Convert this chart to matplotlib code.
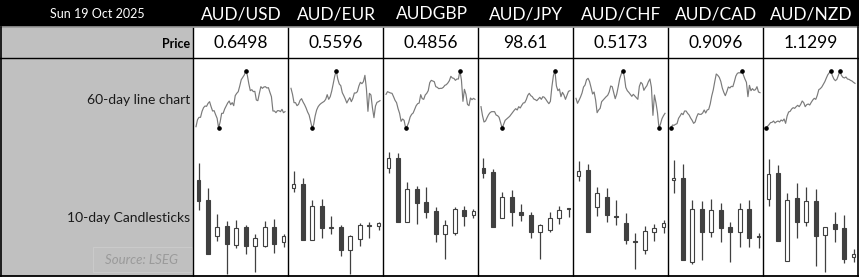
import numpy as np
import matplotlib
matplotlib.use("Agg")
import matplotlib.pyplot as plt
from matplotlib.patches import Rectangle

plt.rcParams['font.family'] = ['Lato', 'DejaVu Sans']

# ---------------- data ----------------
date_label = "Sun 19 Oct 2025"
pairs = ["AUD/USD", "AUD/EUR", "AUDGBP", "AUD/JPY", "AUD/CHF", "AUD/CAD", "AUD/NZD"]
prices = ["0.6498", "0.5596", "0.4856", "98.61", "0.5173", "0.9096", "1.1299"]
row_labels = ["Price", "60-day line chart", "10-day Candlesticks"]
source_note = "Source: LSEG"

# 60-day lines (relative level)
usd_line = [100,121,128,128,146,157,162,161,170,175,160,147,148,136,125,96,114,140,140,153,
            162,171,177,166,172,163,193,200,205,222,241,248,255,268,255,229,208,211,205,206,
            180,178,200,220,215,219,220,216,217,203,190,147,147,142,148,148,145,152,142,145]
eur_line = [215,197,172,172,163,167,179,184,174,166,156,144,135,116,96,106,132,150,160,166,
            170,173,176,182,196,182,190,207,229,252,268,243,228,223,202,193,183,171,180,187,
            175,185,201,201,205,222,233,229,235,254,213,146,200,195,156,127,162,173,175,178]
gbp_line = [197,205,203,201,200,190,179,172,154,140,116,123,119,96,101,112,129,137,141,152,
            163,169,171,196,184,182,195,200,208,232,239,237,235,220,218,214,215,215,218,224,
            226,231,238,251,246,245,239,243,243,268,240,176,212,197,167,163,186,181,185,182]
jpy_line = [160,133,114,117,127,136,142,145,145,145,135,133,128,112,96,107,119,123,127,131,
            137,143,149,154,150,160,156,164,171,172,181,194,200,193,190,183,181,178,183,188,
            182,190,188,182,175,169,176,220,253,268,222,208,213,190,203,195,182,194,206,208]
chf_line = [185,170,179,189,201,219,225,241,245,235,217,198,204,180,142,150,155,175,180,185,
            190,194,204,222,220,202,184,198,220,244,258,268,252,218,208,203,197,191,197,192,
            187,182,221,233,228,209,217,223,235,243,218,134,195,172,142,96,108,124,133,140]
cad_line = [96,105,104,107,109,125,132,140,136,147,147,140,135,126,119,110,114,129,139,137,
            137,141,150,141,150,152,168,192,210,235,258,254,248,236,216,203,193,205,219,216,
            221,220,235,252,260,262,261,268,255,243,233,190,224,208,214,209,211,220,204,202]
nzd_line = [96,101,106,112,113,117,111,115,117,114,120,117,123,110,132,144,146,153,157,155,
            160,164,160,167,177,172,160,166,168,165,173,180,185,182,194,211,214,219,227,235,
            246,256,262,268,253,243,238,242,254,268,254,248,246,249,243,242,239,237,233,230]

# 10-day candles (relative level)
usd_open  = [100.0, 80.0, 43.7, 54.0, 35.3, 53.0, 34.3, 33.7, 53.0, 37.7]
usd_high  = [116.7, 91.7, 65.7, 59.0, 59.7, 55.0, 46.3, 59.0, 60.7, 46.3]
usd_low   = [70.0, 25.7, 39.0, 5.7, 31.7, 26.0, 7.7, 33.0, 26.7, 32.7]
usd_close = [79.3, 25.7, 53.0, 35.7, 52.0, 34.3, 41.7, 53.0, 36.3, 44.0]

eur_open  = [92.3, 95.7, 40.3, 73.7, 51.7, 53.0, 30.3, 40.7, 54.0, 54.3]
eur_high  = [109.0, 102.3, 79.7, 81.0, 64.3, 55.0, 45.0, 56.7, 57.7, 58.3]
eur_low   = [88.3, 39.7, 40.3, 41.7, 45.7, 23.7, 5.7, 33.7, 41.7, 49.7]
eur_close = [95.7, 40.3, 73.7, 51.7, 53.0, 30.3, 44.0, 54.7, 55.0, 56.7]

gbp_open  = [111.7, 121.7, 58.3, 91.0, 78.0, 69.0, 45.7, 47.0, 70.0, 65.3]
gbp_high  = [128.0, 127.0, 98.3, 94.3, 92.7, 72.7, 59.7, 72.7, 74.3, 71.0]
gbp_low   = [106.7, 58.3, 58.3, 56.0, 61.7, 38.3, 20.7, 45.0, 54.3, 61.7]
gbp_close = [121.7, 58.3, 91.0, 77.3, 68.3, 45.7, 55.0, 71.0, 64.3, 69.0]

jpy_open  = [111.7, 107.7, 61.7, 82.7, 68.0, 65.0, 48.3, 50.3, 61.7, 72.0]
jpy_high  = [121.7, 111.0, 87.7, 90.0, 75.7, 68.3, 56.3, 68.3, 74.3, 72.0]
jpy_low   = [102.3, 53.3, 61.7, 54.3, 59.0, 41.7, 20.7, 48.3, 55.7, 63.3]
jpy_close = [107.3, 53.3, 82.7, 67.7, 65.3, 48.3, 54.7, 61.7, 70.0, 70.7]

chf_open  = [104.3, 110.0, 73.3, 83.0, 64.0, 56.7, 38.7, 30.3, 47.7, 52.7]
chf_high  = [119.0, 115.7, 92.7, 91.7, 80.0, 66.7, 46.7, 53.7, 56.0, 60.0]
chf_low   = [99.0, 47.7, 64.3, 57.7, 55.0, 36.3, 10.7, 25.7, 39.0, 46.7]
chf_close = [109.0, 47.7, 86.7, 65.0, 62.7, 39.7, 37.7, 48.7, 51.7, 56.7]

cad_open  = [99.7, 101.7, 17.7, 71.0, 48.3, 70.0, 53.0, 48.3, 71.0, 44.0]
cad_high  = [120.0, 115.7, 80.0, 79.0, 81.0, 76.7, 57.7, 76.7, 80.0, 46.7]
cad_low   = [86.7, 19.7, 15.7, 19.7, 43.3, 38.3, 17.7, 33.3, 33.3, 32.3]
cad_close = [101.7, 19.7, 71.0, 48.3, 70.0, 52.3, 48.3, 71.0, 41.7, 42.7]

nzd_open  = [80.7, 106.7, 19.3, 82.0, 57.7, 79.0, 45.3, 56.0, 52.0, 23.3]
nzd_high  = [121.0, 115.0, 87.3, 96.7, 92.7, 91.0, 53.0, 67.7, 65.0, 30.7]
nzd_low   = [74.3, 39.3, 19.3, 42.3, 54.3, 14.3, 7.7, 38.3, 17.3, 17.7]
nzd_close = [106.0, 39.3, 80.0, 58.3, 79.0, 44.3, 53.0, 51.3, 21.3, 26.0]

lines = [usd_line, eur_line, gbp_line, jpy_line, chf_line, cad_line, nzd_line]
candles = [
    (usd_open, usd_high, usd_low, usd_close),
    (eur_open, eur_high, eur_low, eur_close),
    (gbp_open, gbp_high, gbp_low, gbp_close),
    (jpy_open, jpy_high, jpy_low, jpy_close),
    (chf_open, chf_high, chf_low, chf_close),
    (cad_open, cad_high, cad_low, cad_close),
    (nzd_open, nzd_high, nzd_low, nzd_close),
]

# ---------------- layout (pixels) ----------------
W, H = 859, 277
LABEL_W = 193
COL_W = 95
HEAD_B = 26.5
PRICE_B = 58
BOTTOM = 275.5
DARK = "#404040"

fig = plt.figure(figsize=(W / 100, H / 100), dpi=100)
bg = fig.add_axes([0, 0, 1, 1])
bg.set_xlim(0, W)
bg.set_ylim(H, 0)
bg.axis("off")

def px_axes(x0, y0, x1, y1):
    a = fig.add_axes([x0 / W, 1 - y1 / H, (x1 - x0) / W, (y1 - y0) / H])
    a.set_facecolor("none")
    a.axis("off")
    return a

# backgrounds
bg.add_patch(Rectangle((0, 0), W, HEAD_B, color="black", lw=0))
bg.add_patch(Rectangle((0, HEAD_B), LABEL_W, BOTTOM - HEAD_B, color="#c0c0c0", lw=0))
bg.add_patch(Rectangle((LABEL_W, HEAD_B), W - LABEL_W, BOTTOM - HEAD_B, color="white", lw=0))
# source box
bg.add_patch(Rectangle((93, 247), 99, 25, facecolor="none", edgecolor="#cdcdcd", lw=0.6))

# grid lines
bg.plot([0, W], [HEAD_B + 0.5, HEAD_B + 0.5], color="#9a9a9a", lw=1.2)
bg.plot([0, W], [PRICE_B, PRICE_B], color="black", lw=1.0)
bg.plot([0, W], [BOTTOM, BOTTOM], color="black", lw=1.3)
bg.plot([0.6, 0.6], [HEAD_B, BOTTOM], color="black", lw=1.2)
bg.plot([W - 0.8, W - 0.8], [HEAD_B, BOTTOM], color="black", lw=1.2)
for i in range(7):
    x = LABEL_W + i * COL_W
    bg.plot([x, x], [HEAD_B + 1, BOTTOM], color="black", lw=1.0)

# texts
bg.text(97, 14, date_label, color="white", fontsize=9, ha="center", va="center")
bg.text(190, 43.5, row_labels[0], color="black", fontsize=9, fontweight="bold", ha="right", va="center")
bg.text(190, 100.5, row_labels[1], color="#1a1a1a", fontsize=10, ha="right", va="center")
bg.text(190, 217.5, row_labels[2], color="#1a1a1a", fontsize=10, ha="right", va="center")
bg.text(178, 260, source_note, color="#9a9a9a", fontsize=9.5, style="italic", ha="right", va="center")

for i, (pair, price) in enumerate(zip(pairs, prices)):
    cx = LABEL_W + i * COL_W + COL_W / 2
    bg.text(cx + 1, 14, pair, color="white", fontsize=12.5, ha="center", va="center")
    bg.text(cx, 43.5, price, color="black", fontsize=12.5, ha="center", va="center")

# line charts
for i, series in enumerate(lines):
    x0 = LABEL_W + i * COL_W
    ax = px_axes(x0, 60, x0 + COL_W, 160)
    v = np.array(series, dtype=float)
    n = len(v)
    pad = 3.0
    span = (n - 1) / (COL_W - 2 * pad)
    ax.set_xlim(-pad * span, (n - 1) + pad * span)
    ax.set_ylim(0, 300)
    idx = np.arange(n)
    ax.plot(idx, v, color="#7a7a7a", lw=0.85, solid_joinstyle="round")
    for k in np.where(v == v.max())[0]:
        ax.plot(k, v[k], "o", color="black", ms=2.3, zorder=5)
    for k in np.where(v == v.min())[0]:
        ax.plot(k, v[k], "o", color="black", ms=2.3, zorder=5)

# candlesticks
for i, (o, h, l, c) in enumerate(candles):
    x0 = LABEL_W + i * COL_W
    ax = px_axes(x0, 150, x0 + COL_W, 276)
    o = np.array(o); h = np.array(h); l = np.array(l); c = np.array(c)
    n = len(o)
    lp, rp = 5.5, 4.5
    upx = (n - 1) / (COL_W - lp - rp)
    ax.set_xlim(-lp * upx, (n - 1) + rp * upx)
    ax.set_ylim(4, 130)
    xs = np.arange(n)
    ax.vlines(xs, l, h, color=DARK, lw=0.9, zorder=2)
    bottoms = np.minimum(o, c)
    heights = np.maximum(np.abs(c - o), 1.0)
    fills = ["white" if cc >= oo else DARK for oo, cc in zip(o, c)]
    ax.bar(xs, heights, bottom=bottoms, width=0.42, color=fills,
           edgecolor=DARK, linewidth=0.8, zorder=3)

fig.savefig("out.png", dpi=100)
